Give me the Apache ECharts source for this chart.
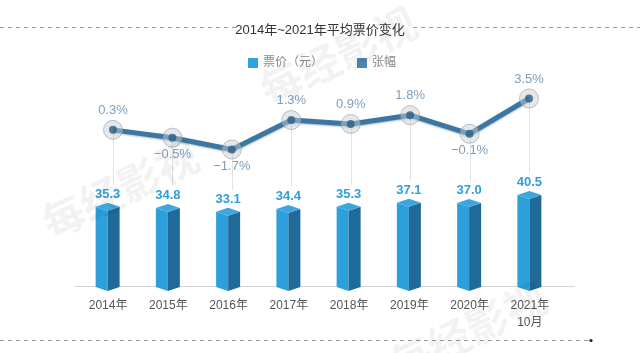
<!DOCTYPE html>
<html>
<head>
<meta charset="utf-8">
<script src="https://cdn.jsdelivr.net/npm/echarts@6/dist/echarts.min.js"></script>
<style>html,body{margin:0;padding:0;background:#fff}#c{width:640px;height:353px}</style>
</head>
<body>
<div id="c"></div>
<script>
const years = ['2014年','2015年','2016年','2017年','2018年','2019年','2020年','2021年\n10月'];
const prices = [35.3, 34.8, 33.1, 34.4, 35.3, 37.1, 37.0, 40.5];
const growth = [0.3, -0.5, -1.7, 1.3, 0.9, 1.8, -0.1, 3.5];
const titleText = '2014年~2021年平均票价变化';
const priceName = '票价（元）';
const growthName = '张幅';

const FONT = "'Liberation Sans','Noto Sans CJK SC',sans-serif";
const chart = echarts.init(document.getElementById('c'), null, {renderer: 'canvas'});

function renderBar(params, api) {
  const i = api.value(0), v = api.value(1);
  const top = api.coord([i, v]);
  const base = api.coord([i, 0]);
  const c = top[0] - 0.5;
  const wl = 12, wr = 12, d = 4;
  const yT = top[1], yB = base[1];
  return {
    type: 'group',
    children: [
      {type: 'polygon', shape: {points: [[c - wl, yT], [c, yT + d], [c, yB + d], [c - wl, yB]]}, style: {fill: '#2d9fdb'}},
      {type: 'polygon', shape: {points: [[c, yT + d], [c + wr, yT], [c + wr, yB], [c, yB + d]]}, style: {fill: '#1f6a98'}},
      {type: 'polygon', shape: {points: [[c - wl, yT], [c, yT + d], [c + wr, yT], [c, yT - d]]}, style: {fill: '#3da6de'}},
      {type: 'text', style: {text: v.toFixed(1), x: c, y: yT - 6, align: 'center', verticalAlign: 'bottom',
        textAlign: 'center', textVerticalAlign: 'bottom', fill: '#2e9fdc', font: 'bold 13px ' + FONT}}
    ]
  };
}

const fmtPct = v => (v < 0 ? '\u2212' + Math.abs(v).toFixed(1) : v.toFixed(1)) + '%';

const wmStyle = {text: '每经影视', fill: 'rgba(0,0,0,0.05)', font: 'bold 42px ' + FONT, align: 'center', verticalAlign: 'middle'};

const option = {
  animation: false,
  backgroundColor: '#fff',
  title: {
    text: titleText, left: 'center', top: 19,
    textStyle: {fontSize: 13, fontWeight: 'normal', color: '#333', fontFamily: FONT}
  },
  legend: {
    left: 243, top: 52, itemWidth: 10, itemHeight: 10, itemGap: 34,
    textStyle: {color: '#888', fontSize: 12, fontFamily: FONT},
    data: [
      {name: priceName, icon: 'rect', itemStyle: {color: '#2ea1e0'}},
      {name: growthName, icon: 'rect', itemStyle: {color: '#4f86ad'}}
    ]
  },
  grid: [
    {left: 78, right: 80, top: 173.5, height: 113.5},
    {left: 113, right: 111, top: 74, height: 98}
  ],
  xAxis: [
    {type: 'category', gridIndex: 0, data: years, boundaryGap: true,
     axisLine: {show: false}, axisTick: {show: false},
     axisLabel: {color: '#555', fontSize: 12, margin: 10, lineHeight: 17, fontFamily: FONT}},
    {type: 'category', gridIndex: 1, data: years, boundaryGap: false, show: false}
  ],
  yAxis: [
    {type: 'value', gridIndex: 0, min: 0, max: 50, show: false},
    {type: 'value', gridIndex: 1, min: -4, max: 6, show: false}
  ],
  graphic: [
    {type: 'line', shape: {x1: 0, y1: 27.5, x2: 236, y2: 27.5}, style: {stroke: '#9a9a9a', lineWidth: 1, lineDash: [4, 4]}, silent: true},
    {type: 'line', shape: {x1: 413, y1: 27.5, x2: 640, y2: 27.5}, style: {stroke: '#9a9a9a', lineWidth: 1, lineDash: [4, 4]}, silent: true},
    {type: 'line', shape: {x1: 0, y1: 340.5, x2: 588, y2: 340.5}, style: {stroke: '#9a9a9a', lineWidth: 1, lineDash: [4, 4]}, silent: true},
    {type: 'circle', shape: {cx: 591, cy: 340.5, r: 1.6}, style: {fill: '#222'}, silent: true},
    {type: 'line', shape: {x1: 75, y1: 286.5, x2: 575, y2: 286.5}, style: {stroke: '#d4d4d4', lineWidth: 1}, silent: true, z: 0},
    {type: 'text', x: 122, y: 193, rotation: 0.45, style: wmStyle, silent: true, z: 100},
    {type: 'text', x: 340, y: 60, rotation: 0.45, style: wmStyle, silent: true, z: 100},
    {type: 'text', x: 470, y: 335, rotation: 0.45, style: wmStyle, silent: true, z: 100}
  ],
  series: [
    {
      name: priceName, type: 'custom', xAxisIndex: 0, yAxisIndex: 0,
      itemStyle: {color: '#2ea1e0'},
      renderItem: renderBar,
      data: prices.map((v, i) => [i, v]),
      z: 5
    },
    {
      name: growthName, type: 'line', xAxisIndex: 1, yAxisIndex: 1,
      data: growth, symbol: 'none', showSymbol: false,
      itemStyle: {color: '#4f86ad'},
      lineStyle: {color: '#3b77a2', width: 5, shadowColor: 'rgba(30,60,90,0.35)', shadowBlur: 2, shadowOffsetY: 1},
      z: 6
    },
    {
      name: 'halo', type: 'scatter', xAxisIndex: 1, yAxisIndex: 1,
      data: growth, symbol: 'circle', symbolSize: 19,
      itemStyle: {color: 'rgba(200,206,212,0.6)', borderColor: 'rgba(145,155,168,0.75)', borderWidth: 1},
      silent: true, z: 7
    },
    {
      name: 'dot', type: 'scatter', xAxisIndex: 1, yAxisIndex: 1,
      data: growth.map(v => ({
        value: v,
        label: {position: v >= 0 ? 'top' : 'bottom', distance: v >= 0 ? 9 : 6}
      })),
      symbol: 'circle', symbolSize: 8,
      itemStyle: {color: '#2c5e84'},
      label: {show: true, color: '#5b87ab', fontSize: 13, fontFamily: FONT, formatter: p => fmtPct(p.value)},
      silent: true, z: 8
    }
  ]
};

chart.setOption(option);

// drop lines from each growth point down to just above the price label
const drops = growth.map((g, i) => {
  const p1 = chart.convertToPixel({gridIndex: 1}, [i, g]);
  const p2 = chart.convertToPixel({gridIndex: 0}, [i, prices[i]]);
  return {type: 'line', shape: {x1: Math.round(p1[0]) + 0.5, y1: p1[1], x2: Math.round(p1[0]) + 0.5, y2: p2[1] - 22},
    style: {stroke: '#e2e2e2', lineWidth: 1}, silent: true, z: 1};
});
chart.setOption({graphic: option.graphic.concat(drops)});
</script>
</body>
</html>
